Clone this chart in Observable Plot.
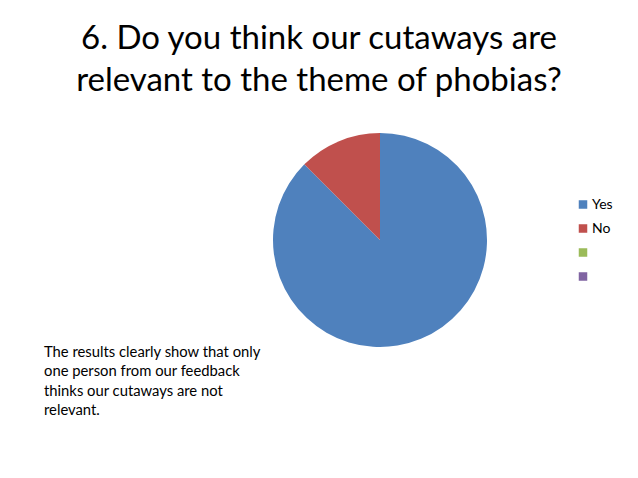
<!DOCTYPE html>
<html><head><meta charset="utf-8">
<script src="https://cdn.jsdelivr.net/npm/d3@7"></script>
<script src="https://cdn.jsdelivr.net/npm/@observablehq/plot@0.6"></script>
<style>
body{margin:0;background:#fff;}
#slide{position:relative;width:638px;height:478px;overflow:hidden;font-family:Lato,"Open Sans",sans-serif;color:#000;}
#title{position:absolute;left:0;top:15px;width:638px;text-align:center;font-size:33px;line-height:42px;white-space:nowrap;}
#note{position:absolute;left:44px;top:342px;font-size:14.8px;line-height:19.3px;white-space:nowrap;}
#pie{position:absolute;left:0;top:0;}
#legend{position:absolute;left:570px;top:191px;}
</style></head><body>
<div id="slide">
  <div id="pie"></div>
  <div id="title">6. Do you think our cutaways are<br>relevant to the theme of phobias?</div>
  <div id="note">The results clearly show that only<br>one person from our feedback<br>thinks our cutaways are not<br>relevant.</div>
  <div id="legend"></div>
</div>
<script>
const categories = ["Yes", "No", "Series3", "Series4"];
const labels = ["Yes", "No", "", ""];
const values = [7, 1, 0, 0];
const colors = ["#4F81BD", "#C0504D", "#9BBB59", "#8064A2"];

const data = categories.map((c, i) => ({category: c, label: labels[i], value: values[i]}));

const pieMark = (index, scales) => {
  const cx = scales.x(0), cy = scales.y(0), r = scales.x(1) - scales.x(0);
  const g = d3.create("svg:g").attr("transform", `translate(${cx},${cy})`);
  const arcs = d3.pie().sort(null).value(d => d.value)(data).filter(a => a.data.value > 0);
  const arc = d3.arc().innerRadius(0).outerRadius(r);
  g.selectAll("path").data(arcs).join("path")
    .attr("d", arc)
    .attr("fill", a => scales.color(a.data.category));
  return g.node();
};

const pie = Plot.plot({
  width: 638, height: 478,
  margin: 0,
  x: {domain: [-1, 1], range: [273, 487], axis: null},
  y: {domain: [-1, 1], range: [347, 133], axis: null},
  color: {domain: categories, range: colors},
  marks: [
    Plot.dot(data, {x: () => 0, y: () => 0, fill: "category", r: 0}),
    pieMark
  ]
});
document.getElementById("pie").append(pie);

const legend = Plot.plot({
  width: 60, height: 100,
  margin: 0,
  x: {domain: [0, 1], range: [12.5, 60], axis: null},
  y: {domain: categories, type: "point", padding: 0, range: [12.5, 84.5], axis: null},
  color: {domain: categories, range: colors},
  style: {fontFamily: "Lato, 'Open Sans', sans-serif", fontSize: "14px", background: "transparent"},
  marks: [
    Plot.dot(data, {x: () => 0, y: "category", fill: "category", symbol: "square", r: 4.8}),
    Plot.text(data, {x: () => 0, y: "category", text: "label", textAnchor: "start", dx: 9, fill: "#000"})
  ]
});
document.getElementById("legend").append(legend);
</script>
</body></html>
